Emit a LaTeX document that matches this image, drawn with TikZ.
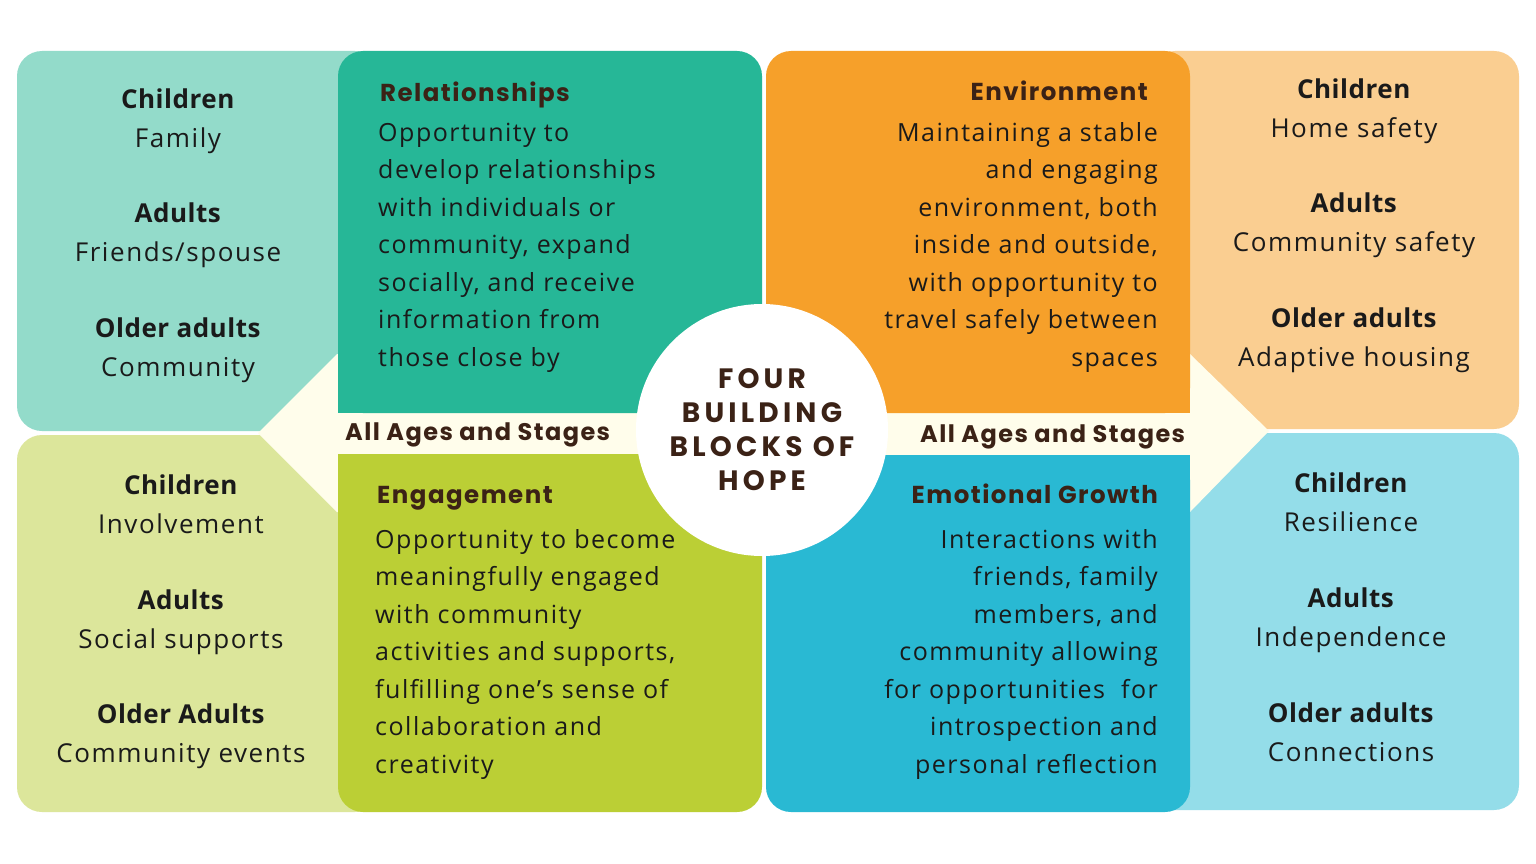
\documentclass[tikz,border=0pt]{standalone}
\usepackage{fontspec}
\setmainfont{Open Sans}[LetterSpace=6,BoldFeatures={LetterSpace=2}]
\newfontfamily\headfont{Poppins}[LetterSpace=6]
\newfontfamily\titlefont{Poppins}[LetterSpace=15]
\definecolor{tealpale}{HTML}{93DBCA}
\definecolor{tealdeep}{HTML}{26B797}
\definecolor{greenpale}{HTML}{DCE69B}
\definecolor{greendeep}{HTML}{BBCF35}
\definecolor{orangepale}{HTML}{FACE91}
\definecolor{orangedeep}{HTML}{F6A02A}
\definecolor{cyanpale}{HTML}{94DDE9}
\definecolor{cyandeep}{HTML}{29B9D3}
\definecolor{hopecream}{HTML}{FFFDEB}
\definecolor{hopebrown}{HTML}{3B2216}
\definecolor{hopeink}{HTML}{1A1A1A}

\begin{document}
\begin{tikzpicture}[x=1pt,y=-1pt,
  tiertext/.style={anchor=north,align=center,inner sep=0pt,text=hopeink,
    font=\fontsize{26}{39}\selectfont},
  bodytext/.style={inner sep=0pt,text=hopeink,font=\fontsize{25}{37.5}\selectfont},
  headtext/.style={inner sep=0pt,text=hopebrown,font=\headfont\bfseries\fontsize{24.5}{28}\selectfont},
  bandtext/.style={headtext,font=\headfont\bfseries\fontsize{24}{28}\selectfont}]
\useasboundingbox[fill=white] (0,0) rectangle (1536,864);

% Outer boxes
\fill[tealpale,rounded corners=25pt] (17,51) rectangle (380,431);
\fill[greenpale,rounded corners=25pt] (17,435) rectangle (380,812);
\fill[orangepale,rounded corners=25pt] (1150,51) rectangle (1519,429);
\fill[cyanpale,rounded corners=25pt] (1150,433) rectangle (1519,810);

% Cream band
\fill[hopecream] (258,433) -- (337,354) -- (1190,354) -- (1269,431)
  -- (1190,512) -- (337,512) -- cycle;

% Inner boxes
\fill[tealdeep,rounded corners=25pt] (338,51) rectangle (762,413);
\fill[tealdeep] (338,380) rectangle (380,413);
\fill[greendeep,rounded corners=25pt] (338,454) rectangle (762,812);
\fill[greendeep] (338,454) rectangle (380,490);
\fill[orangedeep,rounded corners=25pt] (766,51) rectangle (1190,413);
\fill[orangedeep] (1150,380) rectangle (1190,413);
\fill[cyandeep,rounded corners=25pt] (766,455) rectangle (1190,812);
\fill[cyandeep] (1150,455) rectangle (1190,490);

% Centre circle
\node[circle,fill=white,minimum size=252pt,inner sep=0pt,align=center,
  text=hopebrown,font=\titlefont\bfseries\fontsize{28}{34}\selectfont]
  (hope) at (762,430) {FOUR\\BUILDING\\BLOCKS OF\\HOPE};

% Band labels
\node[bandtext,anchor=base west] (agesleft) at (345,440) {All Ages and Stages};
\node[bandtext,anchor=base west] (agesright) at (920,442) {All Ages and Stages};

% Headings
\node[headtext,anchor=base west] (relhead) at (380,102) {Relationships};
\node[headtext,anchor=base east] (envhead) at (1148,101) {Environment};
\node[headtext,anchor=base west] (enghead) at (377,503) {Engagement};
\node[headtext,anchor=base east] (emohead) at (1158,503) {Emotional Growth};

% Block texts
\node[bodytext,anchor=north west,align=left] (reltext) at (378,114.75)
  {\strut Opportunity to\\develop relationships\\with individuals or\\community, expand\\socially, and receive\\information from\\those close by};
\node[bodytext,anchor=north east,align=right] (envtext) at (1158,114.75)
  {\strut Maintaining a stable\\and engaging\\environment, both\\inside and outside,\\with opportunity to\\travel safely between\\spaces};
\node[bodytext,anchor=north west,align=left] (engtext) at (375,521.75)
  {\strut Opportunity to become\\meaningfully engaged\\with community\\activities and supports,\\fulfilling one’s sense of\\collaboration and\\creativity};
\node[bodytext,anchor=north east,align=right] (emotext) at (1158,521.75)
  {\strut Interactions with\\friends, family\\members, and\\community allowing\\for opportunities\ \ for\\introspection and\\personal reflection};

% Left top tiers
\node[tiertext] (ltchild) at (178,80.7) {\strut\textbf{Children}\\Family};
\node[tiertext] (ltadult) at (178,194.7) {\strut\textbf{Adults}\\Friends/spouse};
\node[tiertext] (ltolder) at (178,309.7) {\strut\textbf{Older adults}\\Community};

% Left bottom tiers
\node[tiertext] (lbchild) at (181,466.7) {\strut\textbf{Children}\\Involvement};
\node[tiertext] (lbadult) at (181,581.7) {\strut\textbf{Adults}\\Social supports};
\node[tiertext] (lbolder) at (181,695.7) {\strut\textbf{Older Adults}\\Community events};

% Right top tiers
\node[tiertext] (rtchild) at (1354,70.7) {\strut\textbf{Children}\\Home safety};
\node[tiertext] (rtadult) at (1354,184.7) {\strut\textbf{Adults}\\Community safety};
\node[tiertext] (rtolder) at (1354,299.7) {\strut\textbf{Older adults}\\Adaptive housing};

% Right bottom tiers
\node[tiertext] (rbchild) at (1351,464.7) {\strut\textbf{Children}\\Resilience};
\node[tiertext] (rbadult) at (1351,579.7) {\strut\textbf{Adults}\\Independence};
\node[tiertext] (rbolder) at (1351,694.7) {\strut\textbf{Older adults}\\Connections};
\end{tikzpicture}
\end{document}
